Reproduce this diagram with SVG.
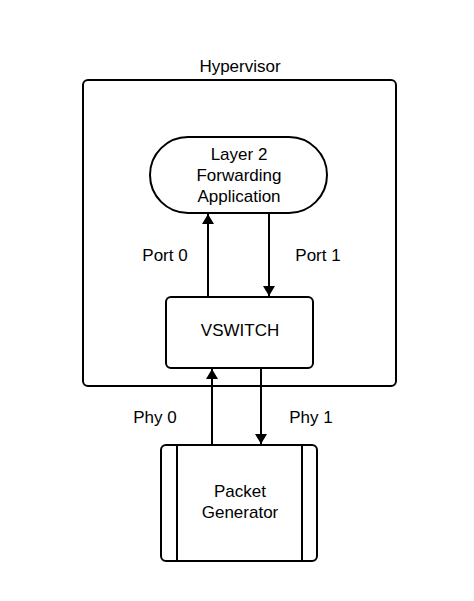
<svg xmlns="http://www.w3.org/2000/svg" width="474" height="601" viewBox="0 0 474 601">
<style>
.box{fill:#fff;stroke:#000;stroke-width:2}
.t{font-family:"Liberation Sans",Arial,sans-serif;font-size:17px;fill:#000;text-anchor:middle}
.c{stroke:#000;stroke-width:2;fill:none}
</style>
<defs>
<marker id="ah" viewBox="0 0 10 12" refX="10" refY="6" markerWidth="10" markerHeight="12" markerUnits="userSpaceOnUse" orient="auto">
<path d="M0,0 L10,6 L0,12 Z" fill="#000"/>
</marker>
</defs>
<rect width="474" height="601" fill="#fff"/>
<g id="hypervisor">
<rect class="box" x="83" y="80" width="313" height="306" rx="5"/>
<text class="t" x="240" y="72">Hypervisor</text>
</g>
<g id="l2fwd">
<rect class="box" x="150" y="137" width="177" height="76" rx="38"/>
<text class="t" x="239" y="160">Layer 2</text>
<text class="t" x="239" y="181">Forwarding</text>
<text class="t" x="239" y="202">Application</text>
</g>
<g id="vswitch">
<rect class="box" x="166" y="297" width="147" height="71" rx="5"/>
<text class="t" x="240" y="336">VSWITCH</text>
</g>
<g id="pktgen">
<rect class="box" x="161" y="445" width="156" height="116" rx="5"/>
<line class="c" x1="177" y1="445" x2="177" y2="561"/>
<line class="c" x1="302" y1="445" x2="302" y2="561"/>
<text class="t" x="240" y="497">Packet</text>
<text class="t" x="240" y="518">Generator</text>
</g>
<g id="connectors">
<line class="c" x1="208" y1="297" x2="208" y2="214" marker-end="url(#ah)"/>
<line class="c" x1="269" y1="213" x2="269" y2="296" marker-end="url(#ah)"/>
<line class="c" x1="212" y1="445" x2="212" y2="369" marker-end="url(#ah)"/>
<line class="c" x1="261" y1="368" x2="261" y2="444" marker-end="url(#ah)"/>
<text class="t" x="165" y="261">Port 0</text>
<text class="t" x="318" y="261">Port 1</text>
<text class="t" x="155" y="423">Phy 0</text>
<text class="t" x="311" y="423">Phy 1</text>
</g>
</svg>
